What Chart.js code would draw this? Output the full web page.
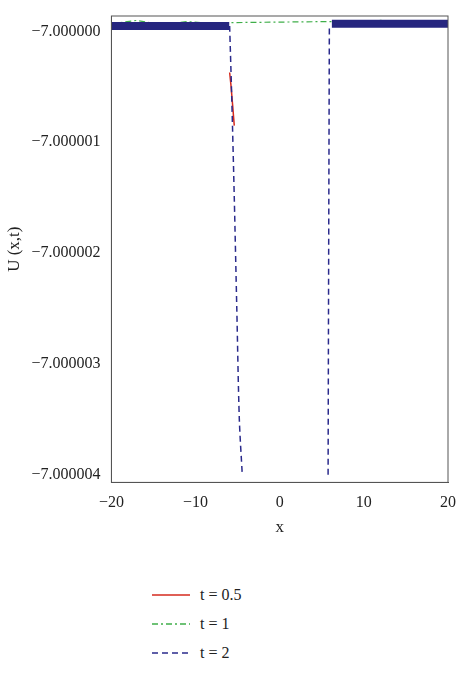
<!DOCTYPE html>
<html>
<head>
<meta charset="utf-8">
<script src="https://cdn.jsdelivr.net/npm/chart.js@4"></script>
<style>
  body { margin: 0; background: #fff; font-family: "Liberation Serif", serif; }
  #wrap { position: relative; width: 474px; height: 540px; }
  #legend { position: absolute; left: 152px; top: 580px; font-size: 16px; color: #222; }
  .row { display: flex; align-items: center; height: 29px; }
  .row svg { margin-right: 10px; }
</style>
</head>
<body>
<div id="wrap"><canvas id="c" width="474" height="540"></canvas></div>
<div id="legend">
  <div class="row"><svg width="38" height="4"><line x1="0" y1="2" x2="38" y2="2" stroke="#d42a1e" stroke-width="1.5"/></svg>t = 0.5</div>
  <div class="row"><svg width="38" height="4"><line x1="0" y1="2" x2="38" y2="2" stroke="#3fae49" stroke-width="1.5" stroke-dasharray="6,3,2,3"/></svg>t = 1</div>
  <div class="row"><svg width="38" height="4"><line x1="0" y1="2" x2="38" y2="2" stroke="#2a2a8c" stroke-width="1.5" stroke-dasharray="6,4"/></svg>t = 2</div>
</div>
<script>
// U values
const xT05 = [-5.95, -5.8, -5.6, -5.4];
const uT05 = [-7.00000037, -7.00000048, -7.00000066, -7.00000085];

const xT1 = [-20, -17, -14, -11, -8, -6, 6, 9, 12, 15, 18, 20];
const uT1 = [-6.99999993, -6.99999990, -6.99999994, -6.99999991, -6.99999993, -6.99999992,
             -6.99999991, -6.99999993, -6.99999990, -6.99999994, -6.99999991, -6.99999993];

const xT2 = [-20, -15, -10, -6, -5.95, -5.7, -5.4, -5.1, -4.8, -4.45, null,
             5.75, 5.8, 5.85, 5.9, 6.2, 10, 15, 20];
const uT2 = [-6.99999995, -6.99999995, -6.99999995, -6.99999995, -6.99999995, -7.0000006,
             -7.0000015, -7.0000025, -7.0000035, -7.0000040, null,
             -7.0000040, -7.0000025, -7.0000012, -6.99999995, -6.99999993, -6.99999993, -6.99999993, -6.99999993];

const yTicks = [-7.000000, -7.000001, -7.000002, -7.000003, -7.000004];

// plot in micro-units relative to -7
const toMicro = u => u === null ? null : Math.round((u + 7) * 1e9) / 1e3;
const pts = (xs, us) => xs.map((x, i) => ({ x: x, y: toMicro(us[i]) }));

const frame = {
  id: 'frame',
  afterDraw(chart) {
    const a = chart.chartArea, ctx = chart.ctx;
    ctx.save();
    ctx.strokeStyle = '#555';
    ctx.lineWidth = 1;
    ctx.strokeRect(a.left, a.top, a.right - a.left, a.bottom - a.top);
    ctx.restore();
  }
};

new Chart(document.getElementById('c'), {
  type: 'line',
  data: {
    datasets: [
      { data: pts(xT2.slice(0, 5), uT2.slice(0, 5)), borderColor: '#26267f', borderWidth: 8, pointRadius: 0 },
      { data: pts(xT2.slice(15), uT2.slice(15)), borderColor: '#26267f', borderWidth: 8, pointRadius: 0 },
      { data: pts(xT1, uT1), borderColor: '#3fae49', borderWidth: 1.2, borderDash: [6, 3, 2, 3], pointRadius: 0, spanGaps: false },
      { data: pts(xT2.slice(4, 15), uT2.slice(4, 15)), borderColor: '#2a2a8c', borderWidth: 1.5, borderDash: [6, 4], pointRadius: 0, tension: 0.3 },
      { data: pts(xT05, uT05), borderColor: '#d42a1e', borderWidth: 1.5, pointRadius: 0 }
    ]
  },
  options: {
    responsive: false,
    animation: false,
    layout: { padding: { top: 16, right: 26 } },
    plugins: { legend: { display: false }, tooltip: { enabled: false } },
    scales: {
      x: {
        type: 'linear', min: -20, max: 20,
        grid: { display: false, drawTicks: true },
        border: { color: '#555' },
        ticks: { stepSize: 10, color: '#222', font: { family: 'Liberation Serif', size: 16 },
          callback: v => v < 0 ? '\u2212' + Math.abs(v) : String(v) },
        title: { display: true, text: 'x', color: '#222', font: { family: 'Liberation Serif', size: 17 }, padding: 2 }
      },
      y: {
        min: -4.07, max: 0.14,
        grid: { display: false },
        border: { color: '#555' },
        afterBuildTicks: ax => { ax.ticks = yTicks.map(u => ({ value: toMicro(u) })); },
        ticks: { color: '#222', font: { family: 'Liberation Serif', size: 16 },
          callback: v => '\u2212' + (7 - v / 1e6).toFixed(6) },
        title: { display: true, text: 'U (x,t)', color: '#222', font: { family: 'Liberation Serif', size: 17 }, padding: 4 }
      }
    }
  },
  plugins: [frame]
});
</script>
</body>
</html>
